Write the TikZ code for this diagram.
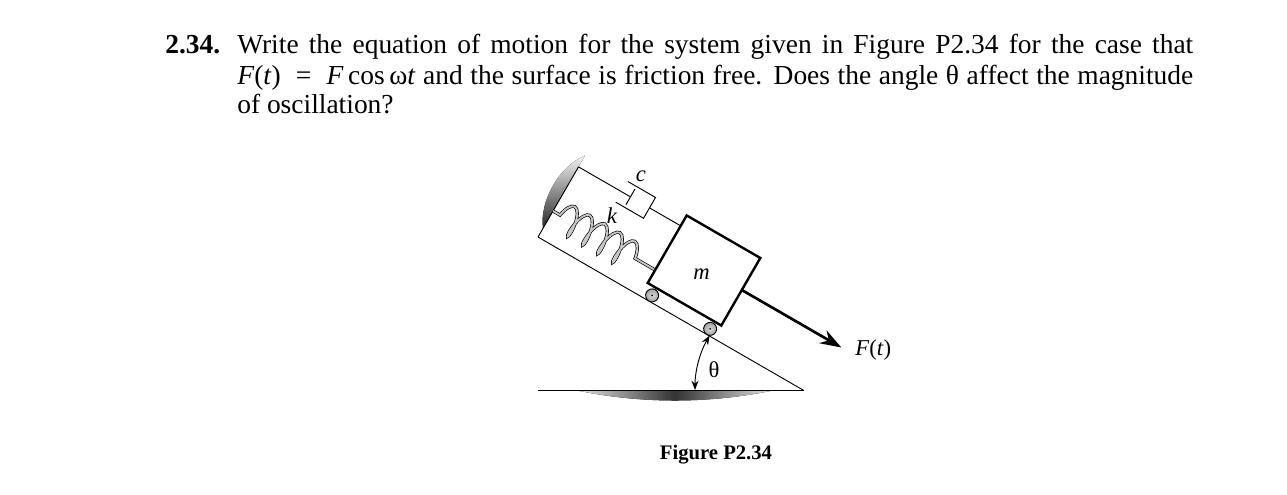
\documentclass[tikz,border=0pt]{standalone}
\usepackage{fontspec}
\setmainfont{Liberation Serif}
\usetikzlibrary{arrows.meta,decorations.pathmorphing}
\begin{document}
\begin{tikzpicture}[x=0.75pt,y=0.75pt,
  txt/.style={inner sep=0pt,font=\fontsize{20.6}{23}\selectfont},
  lbl/.style={inner sep=0pt,font=\fontsize{17}{20}\selectfont},
  thin line/.style={line width=0.7pt}]
\useasboundingbox (0,0) rectangle (1287,-494);
% text
\node[txt,anchor=base west,font=\fontsize{20.6}{23}\selectfont\bfseries] (num) at (165,-53) {2.34.};
\node[txt,anchor=base west] (l1) at (237,-53) {\makebox[717pt][s]{Write the equation of motion for the system given in Figure P2.34 for the case that}};
\node[txt,anchor=base west] (l2) at (237,-84) {\makebox[717pt][s]{\textit{F}(\textit{t}) \ = \ \textit{F}\,cos\,ω\textit{t} and the surface is friction free. Does the angle θ affect the magnitude}};
\node[txt,anchor=base west] (l3) at (237,-113) {of oscillation?};
\node[anchor=base,inner sep=0pt,font=\fontsize{15.5}{18}\selectfont\bfseries] (cap) at (716,-459) {Figure P2.34};
% ground
\fill[left color=gray!20,right color=gray!20,middle color=black!80] (575,-390) .. controls (640,-404) and (710,-404) .. (775,-390) -- cycle;
\draw[thin line] (538,-390) coordinate (g1) -- (804,-390) coordinate (tip);
% incline frame
\begin{scope}[shift={(538,-237)},rotate=-30]
  \fill[left color=gray!10,right color=black!85,shading angle=0] (0,94) .. controls (-17,72) and (-17,32) .. (0,10) -- cycle;
  \draw[thin line] (0,0) coordinate (A) -- (307,0) coordinate (B);
  \draw[thin line] (0,0) -- (0,81) coordinate (W);
  % damper
  \draw[thin line] (W) -- (60,81);
  \draw[thin line] (60,72) -- (60,90);
  \draw[thin line] (50,93) -- (82,93) -- (82,69) -- (50,69);
  \draw[thin line] (82,81) -- (118,81);
  % spring
  \draw[line width=0.5pt,double=gray!45,double distance=1.4pt] (0,30) -- (8,30)
     decorate[decoration={coil,amplitude=11,segment length=13,aspect=0.3}]{-- (100,30)} -- (118,30);
  % mass
  \draw[line width=1.8pt] (118,15) rectangle (203,93);
  \node[lbl,font=\fontsize{17}{20}\selectfont\itshape] (m) at (160,50) {m};
  % wheels
  \foreach \u in {128,195}{
    \draw[thin line,inner color=gray!30,outer color=gray!75] (\u,6.5) circle[radius=6.5];
    \fill (\u,6.5) circle[radius=1];
  }
  % force
  \draw[line width=2pt,-{Stealth[length=16pt,width=11pt]}] (203,56) -- (318,56) coordinate (Fend);
\end{scope}
\draw[thin line,{Stealth[length=7pt]}-{Stealth[length=7pt]}] ([shift={(180:81.75pt)}]tip) arc[start angle=180,end angle=150,radius=81.75pt];
\node[lbl] (th) at (714,-370) {θ};
\node[lbl,anchor=west] (F) at (855,-350) {\textit{F}(\textit{t})};
\node[lbl,font=\fontsize{17}{20}\selectfont\itshape] (c) at (641,-176) {c};
\node[lbl,font=\fontsize{17}{20}\selectfont\itshape] (k) at (612,-216) {k};
\end{tikzpicture}
\end{document}
